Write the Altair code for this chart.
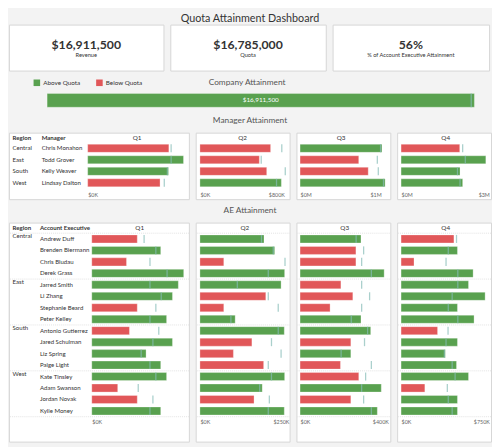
import altair as alt
import pandas as pd

FONT = "Lato"
GREEN = "#59a14f"
RED = "#e15759"
TICK = "#86bcb6"
TXT = "#333333"
BG = "#f3f3f3"

title_text = "Quota Attainment Dashboard"
kpi_values = ["$16,911,500", "$16,785,000", "56%"]
kpi_labels = ["Revenue", "Quota", "% of Account Executive Attainment"]
status_labels = ["Above Quota", "Below Quota"]
company_name = ["Company"]
company_revenue = [16911500]
company_quota = [16785000]
quarters = ["Q1", "Q2", "Q3", "Q4"]

regions = ["Central", "East", "South", "West"]
managers = ["Chris Monahon", "Todd Grover", "Kelly Weaver", "Lindsay Dalton"]

mgr_rev_q1 = [498000, 588000, 496000, 444000]
mgr_quota_q1 = [512000, 512000, 489000, 470000]
mgr_rev_q2 = [670000, 563000, 633000, 772000]
mgr_quota_q2 = [776000, 581000, 809000, 726000]
mgr_rev_q3 = [1009000, 723000, 840000, 1048000]
mgr_quota_q3 = [992000, 952000, 964000, 1028000]
mgr_rev_q4 = [1993000, 2880000, 2003000, 2093000]
mgr_quota_q4 = [2093000, 2183000, 1917000, 2003000]

aes = ["Andrew Duff", "Brenden Biermann", "Chris Bludau", "Derek Grass",
       "Jarred Smith", "Li Zhang", "Stephanie Beard", "Peter Kelley",
       "Antonio Gutierrez", "Jared Schulman", "Liz Spring", "Paige Light",
       "Kate Tinsley", "Adam Swanson", "Jordan Novak", "Kylie Money"]
ae_region = ["Central"] * 4 + ["East"] * 4 + ["South"] * 4 + ["West"] * 4

ae_rev_q1 = [93000, 141000, 71000, 188000, 177000, 165000, 93000, 153000,
             77000, 165000, 111000, 141000, 153000, 53000, 93000, 141000]
ae_quota_q1 = [107000, 131000, 119000, 154000, 119000, 142000, 131000, 119000,
               137000, 125000, 101000, 119000, 131000, 95000, 125000, 119000]
ae_rev_q2 = [180000, 210000, 67000, 238000, 228000, 185000, 67000, 99000,
             237000, 146000, 94000, 179000, 238000, 175000, 152000, 237000]
ae_quota_q2 = [173000, 206000, 239000, 192000, 105000, 192000, 220000, 87000,
               220000, 201000, 228000, 192000, 201000, 168000, 195000, 192000]
ae_rev_q3 = [276000, 253000, 253000, 381000, 185000, 239000, 136000, 276000,
             320000, 230000, 230000, 183000, 266000, 368000, 230000, 350000]
ae_quota_q3 = [254000, 288000, 279000, 323000, 279000, 315000, 279000, 232000,
               306000, 292000, 186000, 323000, 297000, 279000, 288000, 323000]
ae_rev_q4 = [449000, 479000, 110000, 612000, 573000, 714000, 479000, 620000,
             310000, 479000, 376000, 471000, 573000, 202000, 479000, 479000]
ae_quota_q4 = [471000, 401000, 382000, 482000, 482000, 434000, 401000, 482000,
               399000, 382000, 368000, 434000, 459000, 393000, 401000, 434000]

PI = 0.3
STATUS = "datum.revenue >= datum.quota ? 'Above Quota' : 'Below Quota'"

color_enc = alt.Color(
    "status:N",
    scale=alt.Scale(domain=status_labels, range=[GREEN, RED]),
    legend=alt.Legend(title=None),
)


def fmt_expr(unit):
    if unit == "K":
        return "'$' + format(datum.value / 1000, ',.0f') + 'K'"
    return "'$' + format(datum.value / 1000000, ',.0f') + 'M'"


def panel(names, rev, quota, quarter, width, H, step, first_center, header_y,
          label_y, xrange, domain, tick_vals, unit, first=None, seps=False):
    n = len(names)
    y0 = first_center - step / 2
    bw = step * (1 - PI)
    ysc = alt.Scale(domain=names, paddingInner=PI, paddingOuter=PI / 2,
                    range=[y0, y0 + n * step])
    y = alt.Y("name:N", scale=ysc, axis=None)
    df = pd.DataFrame({"name": names, "revenue": rev, "quota": quota})
    base = alt.Chart(df).transform_calculate(status=STATUS)
    label_top = label_y - 2.75
    xax = alt.Axis(
        values=tick_vals, labelExpr=fmt_expr(unit), title=quarter, orient="bottom",
        offset=label_top - H, domain=False, ticks=False, tickSize=0, labelPadding=0,
        labelFlush=True, labelFontSize=5.5, labelColor="#666666", grid=False,
        titleY=header_y - label_top, titleFontSize=6.5, titleFontWeight="normal",
        titleColor=TXT, titleBaseline="middle",
    )
    xsc = alt.Scale(domain=domain, range=xrange, nice=False)
    layers = []
    if seps:
        sdf = pd.DataFrame({"name": names, "region": first["regions"]})
        tops = sdf.drop_duplicates("region")
        bottoms = sdf.tail(1)
        layers.append(
            alt.Chart(tops).mark_rule(color="#e2e2e2", strokeDash=[1, 1], strokeWidth=1,
                                      yOffset=-PI * step / 2)
            .encode(y=alt.Y("name:N", scale=ysc, axis=None, bandPosition=0))
        )
        layers.append(
            alt.Chart(bottoms).mark_rule(color="#e2e2e2", strokeDash=[1, 1], strokeWidth=1,
                                         yOffset=PI * step / 2)
            .encode(y=alt.Y("name:N", scale=ysc, axis=None, bandPosition=1))
        )
    layers.append(
        base.mark_bar(stroke="white", strokeWidth=0.5, strokeOpacity=0.6)
        .encode(x=alt.X("revenue:Q", scale=xsc, axis=xax), y=y, color=color_enc)
    )
    layers.append(
        base.mark_tick(color=TICK, thickness=1.3, size=bw)
        .encode(x=alt.X("quota:Q", scale=xsc, axis=xax), y=y)
    )
    if first is not None and "h1" in first:
        rdf = pd.DataFrame({"name": names, "region": first["regions"]})
        if first["group"]:
            rdf = rdf.drop_duplicates("region")
        layers.append(
            alt.Chart(rdf).mark_text(align="left", baseline="middle", fontSize=6.2,
                                     color=TXT, dy=first["rdy"])
            .encode(x=alt.value(first["rx"]), y=alt.Y("name:N", scale=ysc, axis=None),
                    text="region:N")
        )
        layers.append(
            alt.Chart(df).mark_text(align="left", baseline="middle", fontSize=6.2, color=TXT)
            .encode(x=alt.value(first["nx"]), y=y, text="name:N")
        )
        hdf = pd.DataFrame({"h1": [first["h1"]], "h2": [first["h2"]]})
        layers.append(
            alt.Chart(hdf).mark_text(align="left", baseline="middle", fontSize=6.2,
                                     color=TXT, fontWeight="bold")
            .encode(x=alt.value(first["rx"]), y=alt.value(header_y), text="h1:N")
        )
        layers.append(
            alt.Chart(hdf).mark_text(align="left", baseline="middle", fontSize=6.2,
                                     color=TXT, fontWeight="bold")
            .encode(x=alt.value(first["nx"]), y=alt.value(header_y), text="h2:N")
        )
    return alt.layer(*layers).properties(width=width, height=H)


# KPI row
def kpi(value, label, w):
    d = pd.DataFrame({"value": [value], "label": [label]})
    b = alt.Chart(d)
    v = b.mark_text(fontSize=12.5, fontWeight="bold", color=TXT, baseline="middle").encode(
        x=alt.value(w / 2), y=alt.value(20.5), text="value:N")
    l = b.mark_text(fontSize=5.8, color=TXT, baseline="middle").encode(
        x=alt.value(w / 2), y=alt.value(31.2), text="label:N")
    return alt.layer(v, l).properties(width=w, height=47)


kpi_row = alt.hconcat(*[kpi(kpi_values[i], kpi_labels[i], w)
                        for i, w in enumerate([158, 159, 160])], spacing=5)

# Company attainment
comp = pd.DataFrame({"name": company_name, "revenue": company_revenue,
                     "quota": company_quota})
cb = alt.Chart(comp).transform_calculate(status=STATUS, mid="datum.revenue / 2")
cxs = alt.Scale(domain=[0, company_revenue[0]], range=[39, 476], nice=False)
cys = alt.Scale(paddingInner=0, paddingOuter=0)
company = alt.layer(
    cb.mark_bar(stroke="white", strokeWidth=0.5, strokeOpacity=0.6).encode(
        x=alt.X("revenue:Q", scale=cxs, axis=None),
        y=alt.Y("name:N", scale=cys, axis=None), color=color_enc),
    cb.mark_tick(color=TICK, thickness=1.3, size=14).encode(
        x=alt.X("quota:Q", scale=cxs, axis=None),
        y=alt.Y("name:N", scale=cys, axis=None)),
    cb.mark_text(color="white", fontSize=6.5, baseline="middle").encode(
        x=alt.X("mid:Q", scale=cxs, axis=None),
        y=alt.Y("name:N", scale=cys, axis=None),
        text=alt.Text("revenue:Q", format="$,.0f")),
).properties(
    width=487, height=14,
    title=alt.TitleParams("Company Attainment", fontSize=8.5, color="#555555",
                          fontWeight="normal", offset=7.5, anchor="middle"),
    view=alt.ViewBackground(fill="transparent", stroke="transparent"),
)

# Manager attainment
MH, MSTEP, MFC, MHY, MLY = 68, 11.77, 16.0, 5.0, 63.6
mfirst = {"regions": regions, "group": False, "rx": 3.7, "nx": 33.4, "rdy": 0,
          "h1": "Region", "h2": "Manager"}
mgr_panels = [
    panel(managers, mgr_rev_q1, mgr_quota_q1, quarters[0], 184, MH, MSTEP, MFC, MHY, MLY,
          [80.5, 180.5], [0, 600000], [0], "K", first=mfirst),
    panel(managers, mgr_rev_q2, mgr_quota_q2, quarters[1], 96, MH, MSTEP, MFC, MHY, MLY,
          [4.3, 90.6], [0, 800000], [0, 800000], "K"),
    panel(managers, mgr_rev_q3, mgr_quota_q3, quarters[2], 96, MH, MSTEP, MFC, MHY, MLY,
          [3.7, 86.7], [0, 1000000], [0, 1000000], "M"),
    panel(managers, mgr_rev_q4, mgr_quota_q4, quarters[3], 96, MH, MSTEP, MFC, MHY, MLY,
          [4, 94.3], [0, 3000000], [0, 3000000], "M"),
]
mgr_row = alt.hconcat(*mgr_panels, spacing=5).properties(
    title=alt.TitleParams("Manager Attainment", fontSize=8.5, color="#555555",
                          fontWeight="normal", offset=7.9, anchor="middle"))

# AE attainment
AH, ASTEP, AFC, AHY, ALY = 224, 11.73, 16.7, 5.3, 204
afirst = {"regions": ae_region, "group": True, "rx": 3.7, "nx": 31.7, "rdy": -2.7,
          "h1": "Region", "h2": "Account Executive"}
aseps = {"regions": ae_region}
ae_panels = [
    panel(aes, ae_rev_q1, ae_quota_q1, quarters[0], 184, AH, ASTEP, AFC, AHY, ALY,
          [84.7, 181.7], [0, 194000], [0], "K", first=afirst, seps=True),
    panel(aes, ae_rev_q2, ae_quota_q2, quarters[1], 96, AH, ASTEP, AFC, AHY, ALY,
          [4.3, 95.3], [0, 250000], [0, 250000], "K", first=aseps, seps=True),
    panel(aes, ae_rev_q3, ae_quota_q3, quarters[2], 96, AH, ASTEP, AFC, AHY, ALY,
          [3.7, 94], [0, 400000], [0, 400000], "K", first=aseps, seps=True),
    panel(aes, ae_rev_q4, ae_quota_q4, quarters[3], 96, AH, ASTEP, AFC, AHY, ALY,
          [4, 94.3], [0, 750000], [0, 750000], "K", first=aseps, seps=True),
]
ae_row = alt.hconcat(*ae_panels, spacing=5).properties(
    title=alt.TitleParams("AE Attainment", fontSize=8.5, color="#555555",
                          fontWeight="normal", offset=8.2, anchor="middle"))

inner = alt.vconcat(mgr_row, ae_row, spacing=5)
mid = alt.vconcat(company, inner, spacing=8)
chart = alt.vconcat(kpi_row, mid, spacing=5.5).properties(
    title=alt.TitleParams(title_text, fontSize=11, offset=0, anchor="middle",
                          color=TXT, fontWeight="normal"),
    padding=0,
    background=BG,
).configure(font=FONT).configure_view(
    fill="white", stroke="#d6d6d6", strokeWidth=1
).configure_legend(
    orient="none", legendX=25, legendY=56, direction="horizontal",
    symbolType="square", symbolSize=45, symbolStrokeWidth=0,
    labelFontSize=6.5, labelColor=TXT, columnPadding=16, labelOffset=3, padding=0,
)

chart.save("out.html", embed_options={"renderer": "svg", "actions": False})
